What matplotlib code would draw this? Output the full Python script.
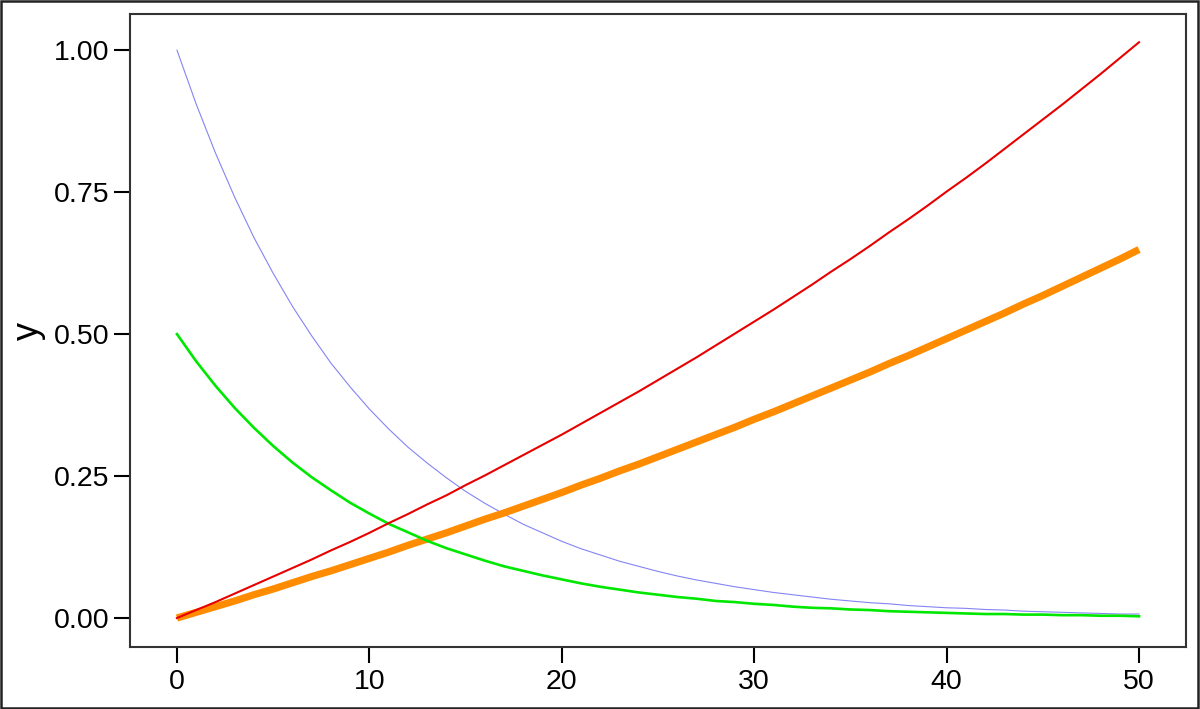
import numpy as np
import matplotlib.pyplot as plt
from matplotlib.patches import Rectangle

plt.rcParams['font.family'] = ['Liberation Sans', 'DejaVu Sans']

# x positions (0..50, step 1)
x_vals = list(range(51))

# thin blue curve, starts at 1.00
blue_vals = [1.000, 0.905, 0.819, 0.741, 0.670, 0.607, 0.549, 0.497, 0.449, 0.407,
             0.368, 0.333, 0.301, 0.273, 0.247, 0.223, 0.202, 0.183, 0.165, 0.150,
             0.135, 0.122, 0.111, 0.100, 0.091, 0.082, 0.074, 0.067, 0.061, 0.055,
             0.050, 0.045, 0.041, 0.037, 0.033, 0.030, 0.027, 0.025, 0.022, 0.020,
             0.018, 0.017, 0.015, 0.014, 0.012, 0.011, 0.010, 0.009, 0.008, 0.007,
             0.007]

# green curve, starts at 0.50
green_vals = [0.500, 0.452, 0.409, 0.370, 0.335, 0.303, 0.274, 0.248, 0.225, 0.203,
              0.184, 0.166, 0.151, 0.136, 0.123, 0.112, 0.101, 0.091, 0.083, 0.075,
              0.068, 0.061, 0.055, 0.050, 0.045, 0.041, 0.037, 0.034, 0.030, 0.028,
              0.025, 0.023, 0.020, 0.018, 0.017, 0.015, 0.014, 0.012, 0.011, 0.010,
              0.009, 0.008, 0.007, 0.007, 0.006, 0.006, 0.005, 0.005, 0.004, 0.004,
              0.003]

# red curve, rises to ~1.01
red_vals = [0.000, 0.014, 0.028, 0.043, 0.058, 0.073, 0.088, 0.103, 0.119, 0.134,
            0.150, 0.167, 0.183, 0.200, 0.216, 0.234, 0.251, 0.269, 0.287, 0.305,
            0.323, 0.342, 0.361, 0.380, 0.399, 0.419, 0.439, 0.459, 0.480, 0.501,
            0.522, 0.543, 0.565, 0.587, 0.610, 0.632, 0.655, 0.679, 0.702, 0.726,
            0.751, 0.775, 0.800, 0.826, 0.852, 0.878, 0.904, 0.931, 0.958, 0.986,
            1.014]

# thick orange curve, rises to ~0.65
orange_vals = [0.000, 0.010, 0.020, 0.030, 0.041, 0.051, 0.062, 0.073, 0.083, 0.094,
               0.105, 0.116, 0.128, 0.139, 0.150, 0.162, 0.174, 0.185, 0.197, 0.209,
               0.221, 0.234, 0.246, 0.259, 0.271, 0.284, 0.297, 0.310, 0.323, 0.336,
               0.350, 0.363, 0.377, 0.391, 0.405, 0.419, 0.433, 0.448, 0.462, 0.477,
               0.492, 0.507, 0.522, 0.537, 0.553, 0.568, 0.584, 0.600, 0.616, 0.632,
               0.649]

x_ticks = [0, 10, 20, 30, 40, 50]
y_ticks = [0.00, 0.25, 0.50, 0.75, 1.00]

fig = plt.figure(figsize=(12, 7.09), dpi=100)
ax = fig.add_axes([0.1083, 0.0875, 0.8797, 0.8925])

ax.plot(x_vals, blue_vals, color='#8484f4', linewidth=0.8)
ax.plot(x_vals, orange_vals, color='#ff8c00', linewidth=5.2, solid_capstyle='butt')
ax.plot(x_vals, green_vals, color='#00e800', linewidth=1.9)
ax.plot(x_vals, red_vals, color='#e80000', linewidth=1.5)

ax.set_xlim(-2.443, 52.42)
ax.set_ylim(-0.051, 1.0634)
ax.set_xticks(x_ticks)
ax.set_xticklabels([str(v) for v in x_ticks])
ax.set_yticks(y_ticks)
ax.set_yticklabels([f"{v:.2f}" for v in y_ticks])
ax.tick_params(axis='both', direction='out', length=11.5, width=1.5, labelsize=20.5,
               color='black', pad=3)
ax.tick_params(axis='x', pad=4.5)
ax.set_ylabel('y', fontsize=26, labelpad=6)
for sp in ax.spines.values():
    sp.set_color('#333333')
    sp.set_linewidth(1.5)

# outer frame round the whole figure
fig.patches.append(Rectangle((0.001, 0.002), 0.997, 0.996, transform=fig.transFigure,
                             fill=False, edgecolor='#222222', linewidth=1.8))

plt.savefig('out.png', dpi=100)
